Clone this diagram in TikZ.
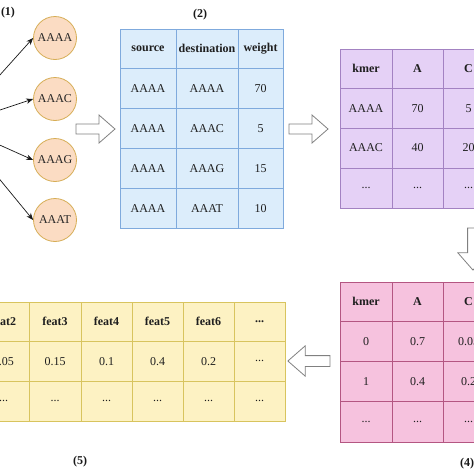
\documentclass[tikz,border=0pt]{standalone}
\usepackage{fontspec}
\setmainfont{Liberation Serif}
\usetikzlibrary{arrows.meta}
\definecolor{circF}{HTML}{FBDCC3}
\definecolor{circB}{HTML}{D6AD55}
\definecolor{blueF}{HTML}{DCEDFB}
\definecolor{blueB}{HTML}{7FAADD}
\definecolor{purpF}{HTML}{E5D1F6}
\definecolor{purpB}{HTML}{A382C2}
\definecolor{pinkF}{HTML}{F6C2DE}
\definecolor{pinkB}{HTML}{B45682}
\definecolor{yelF}{HTML}{FDF2C3}
\definecolor{yelB}{HTML}{D8C45E}
\definecolor{arrG}{HTML}{808080}
\newcommand\ellp{...}
\tikzset{
  txt/.style={font=\fontsize{12}{14}\selectfont, text=black!88, inner sep=0pt},
  lbl/.style={font=\fontsize{12}{14}\selectfont\bfseries, text=black!90, inner sep=0pt},
  kcirc/.style={circle, draw=circB, fill=circF, line width=0.8pt, minimum size=43pt, inner sep=0pt, font=\fontsize{12}{14}\selectfont, text=black!85},
  conn/.style={line width=0.7pt, black!90, -{Stealth[length=7pt,width=5.5pt]}},
  blockarr/.style={draw=arrG, fill=white, line width=0.8pt, line join=miter},
  barrow/.pic={\draw[blockarr] (0,-5) -- (23,-5) -- (23,-14) -- (39,0) -- (23,14) -- (23,5) -- (0,5) -- cycle;}
}
\begin{document}
\begin{tikzpicture}[x=1pt,y=-1pt]
\useasboundingbox (0,0) rectangle (474,474);
\clip (0,0) rectangle (474,474);

% (1) graph
\coordinate (src) at (-45,125);
\node[kcirc] (c1) at (55,38) {AAAA};
\node[kcirc] (c2) at (55,99) {AAAC};
\node[kcirc] (c3) at (55,160) {AAAG};
\node[kcirc] (c4) at (55,220) {AAAT};
\foreach \n in {c1,c2,c3,c4} \draw[conn] (src) -- (\n.west);
\node[lbl] (l1) at (8,13) {(1)};

% (2) edge table
\fill[blueF] (120,29) rectangle (283,228);
\begin{scope}[draw=blueB, line width=0.8pt]
\foreach \x in {176,238} \draw (\x,29) -- (\x,228);
\foreach \y in {68,108,148,188} \draw (120,\y) -- (283,\y);
\draw (120,29) rectangle (283,228);
\end{scope}
\foreach \a/\b/\c [count=\r] in {source/destination/weight, AAAA/AAAA/70, AAAA/AAAC/5, AAAA/AAAG/15, AAAA/AAAT/10}{
  \pgfmathsetmacro\yy{48.5+(\r-1)*39.9}
  \node[txt] (t2-\r-1) at (148,\yy) {\ifnum\r=1\bfseries\fi \a};
  \node[txt] (t2-\r-2) at (207,\yy) {\ifnum\r=1\bfseries\fi \b};
  \node[txt] (t2-\r-3) at (260.5,\yy) {\ifnum\r=1\bfseries\fi \c};
}
\node[lbl] (l2) at (200,15) {(2)};

% (3) count table
\fill[purpF] (340,49) rectangle (494,208);
\begin{scope}[draw=purpB, line width=0.8pt]
\foreach \x in {392,443} \draw (\x,49) -- (\x,208);
\foreach \y in {88,128,168} \draw (340,\y) -- (494,\y);
\draw (340,49) rectangle (494,208);
\end{scope}
\foreach \a/\b/\c [count=\r] in {kmer/A/C, AAAA/70/5, AAAC/40/20, \ellp/\ellp/\ellp}{
  \pgfmathsetmacro\yy{68.5+(\r-1)*39.75}
  \node[txt] (t3-\r-1) at (366,\yy) {\ifnum\r=1\bfseries\fi \a};
  \node[txt] (t3-\r-2) at (417.5,\yy) {\ifnum\r=1\bfseries\fi \b};
  \node[txt] (t3-\r-3) at (468.5,\yy) {\ifnum\r=1\bfseries\fi \c};
}
\node[lbl] (l3) at (481,13) {(3)};

% (4) frequency table
\fill[pinkF] (340,282) rectangle (494,442);
\begin{scope}[draw=pinkB, line width=0.8pt]
\foreach \x in {392,443} \draw (\x,282) -- (\x,442);
\foreach \y in {321,361,401} \draw (340,\y) -- (494,\y);
\draw (340,282) rectangle (494,442);
\end{scope}
\foreach \a/\b/\c [count=\r] in {kmer/A/C, 0/0.7/0.05, 1/0.4/0.2, \ellp/\ellp/\ellp}{
  \pgfmathsetmacro\yy{301.5+(\r-1)*40}
  \node[txt] (t4-\r-1) at (366,\yy) {\ifnum\r=1\bfseries\fi \a};
  \node[txt] (t4-\r-2) at (417.5,\yy) {\ifnum\r=1\bfseries\fi \b};
  \node[txt] (t4-\r-3) at (468.5,\yy) {\ifnum\r=1\bfseries\fi \c};
}
\node[lbl] (l4) at (467,464) {(4)};

% (5) feature table
\fill[yelF] (-22,302) rectangle (285,421);
\begin{scope}[draw=yelB, line width=0.8pt]
\foreach \x in {29,81,132,183,234} \draw (\x,302) -- (\x,421);
\foreach \y in {341.5,381} \draw (-22,\y) -- (285,\y);
\draw (-22,302) rectangle (285,421);
\end{scope}
\foreach \a/\b/\c/\d/\e/\f [count=\r] in {feat2/feat3/feat4/feat5/feat6/\ellp, 0.05/0.15/0.1/0.4/0.2/\ellp, \ellp/\ellp/\ellp/\ellp/\ellp/\ellp}{
  \pgfmathsetmacro\yy{321.5+(\r-1)*39.7}
  \node[txt] (t5-\r-1) at (3.5,\yy) {\ifnum\r=1\bfseries\fi \a};
  \node[txt] (t5-\r-2) at (55,\yy) {\ifnum\r=1\bfseries\fi \b};
  \node[txt] (t5-\r-3) at (106.5,\yy) {\ifnum\r=1\bfseries\fi \c};
  \node[txt] (t5-\r-4) at (157.5,\yy) {\ifnum\r=1\bfseries\fi \d};
  \node[txt] (t5-\r-5) at (208.5,\yy) {\ifnum\r=1\bfseries\fi \e};
  \node[txt] (t5-\r-6) at (259.5,\yy) {\ifnum\r=1\bfseries\fi \f};
}
\node[lbl] (l5) at (80,462) {(5)};

% block arrows
\pic at (76,129) {barrow};
\pic at (289,129) {barrow};
\pic[rotate=-90, scale=1.08] at (473,228) {barrow};
\pic[rotate=180, scale=1.08] at (330,361) {barrow};
\end{tikzpicture}
\end{document}
